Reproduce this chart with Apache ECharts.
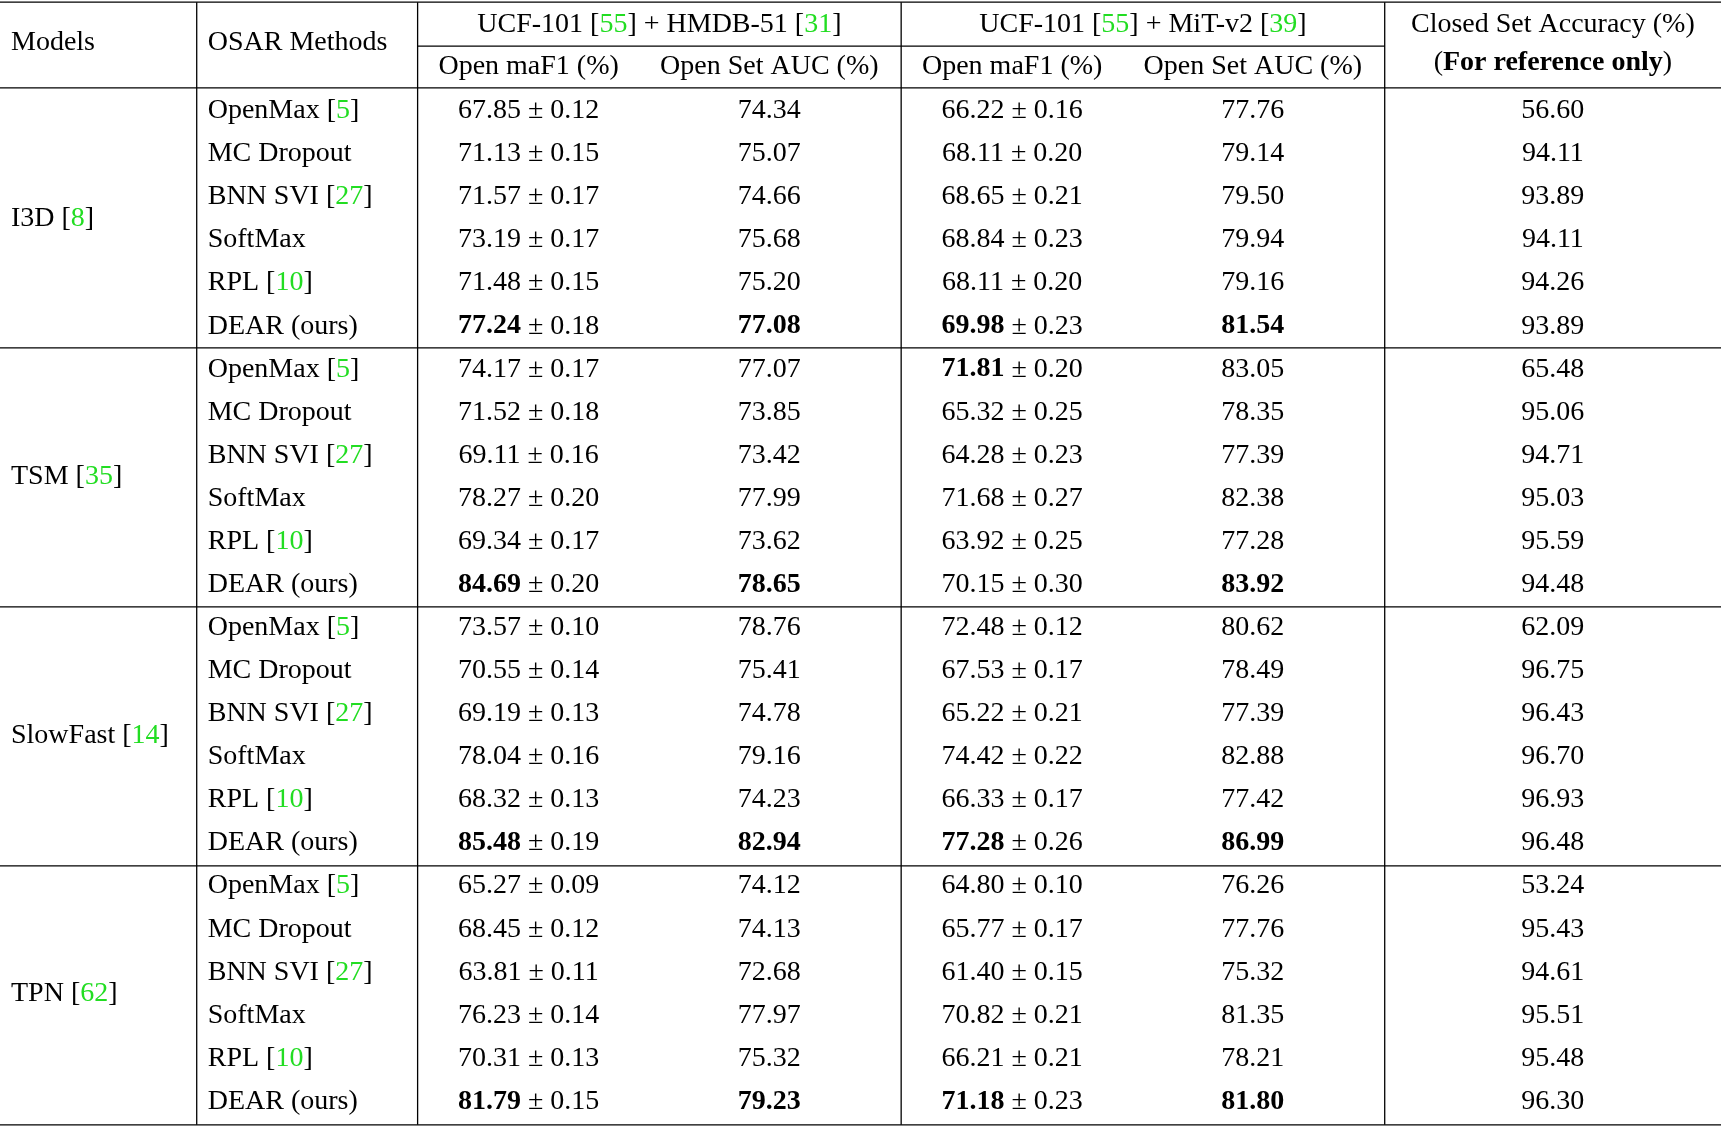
<!DOCTYPE html>
<html>
<head>
<meta charset="utf-8">
<script src="https://cdn.jsdelivr.net/npm/echarts@6/dist/echarts.min.js"></script>
<style>html,body{margin:0;padding:0;background:#fff}#main{width:1721px;height:1127px}</style>
</head>
<body>
<div id="main"></div>
<script>
// table values
var models = ["I3D", "TSM", "SlowFast", "TPN"];
var modelRefs = ["8", "35", "14", "62"];
var methods = ["OpenMax", "MC Dropout", "BNN SVI", "SoftMax", "RPL", "DEAR (ours)"];
var methodRefs = ["5", "", "27", "", "10", ""];
var hmdbF1 = ["67.85","71.13","71.57","73.19","71.48","77.24", "74.17","71.52","69.11","78.27","69.34","84.69",
              "73.57","70.55","69.19","78.04","68.32","85.48", "65.27","68.45","63.81","76.23","70.31","81.79"];
var hmdbErr = ["0.12","0.15","0.17","0.17","0.15","0.18", "0.17","0.18","0.16","0.20","0.17","0.20",
               "0.10","0.14","0.13","0.16","0.13","0.19", "0.09","0.12","0.11","0.14","0.13","0.15"];
var hmdbAuc = ["74.34","75.07","74.66","75.68","75.20","77.08", "77.07","73.85","73.42","77.99","73.62","78.65",
               "78.76","75.41","74.78","79.16","74.23","82.94", "74.12","74.13","72.68","77.97","75.32","79.23"];
var mitF1 = ["66.22","68.11","68.65","68.84","68.11","69.98", "71.81","65.32","64.28","71.68","63.92","70.15",
             "72.48","67.53","65.22","74.42","66.33","77.28", "64.80","65.77","61.40","70.82","66.21","71.18"];
var mitErr = ["0.16","0.20","0.21","0.23","0.20","0.23", "0.20","0.25","0.23","0.27","0.25","0.30",
              "0.12","0.17","0.21","0.22","0.17","0.26", "0.10","0.17","0.15","0.21","0.21","0.23"];
var mitAuc = ["77.76","79.14","79.50","79.94","79.16","81.54", "83.05","78.35","77.39","82.38","77.28","83.92",
              "80.62","78.49","77.39","82.88","77.42","86.99", "76.26","77.76","75.32","81.35","78.21","81.80"];
var closedAcc = ["56.60","94.11","93.89","94.11","94.26","93.89", "65.48","95.06","94.71","95.03","95.59","94.48",
                 "62.09","96.75","96.43","96.70","96.93","96.48", "53.24","95.43","94.61","95.51","95.48","96.30"];
var boldHmdbF1 = [5, 11, 17, 23];
var boldHmdbAuc = [5, 11, 17, 23];
var boldMitF1 = [5, 6, 17, 23];
var boldMitAuc = [5, 11, 17, 23];

// layout (reference units)
var W = 1566, H = 1027;
var colX = [10, 189, 481, 700, 921, 1140, 1413];
var rowY0 = 101, rowH = 39.25;
var font = "Liberation Serif";

var rich = {
  b: {fontWeight: "bold", fontFamily: font, fontSize: 28, fill: "#000"},
  g: {fontFamily: font, fontSize: 28, fill: "#22dd22"}
};
function ref(r) { return r ? " [{g|" + r + "}]" : ""; }
function val(v, bold) { return bold ? "{b|" + v + "}" : v; }

var cells = [];
function cell(x, y, text, align) { cells.push([x, y, text, align || "center"]); }

// header
cell(10, 39, "Models", "left");
cell(189, 39, "OSAR Methods", "left");
cell(600, 22, "UCF-101 [{g|55}] + HMDB-51 [{g|31}]");
cell(1040, 22, "UCF-101 [{g|55}] + MiT-v2 [{g|39}]");
cell(colX[2], 61, "Open maF1 (%)");
cell(colX[3], 61, "Open Set AUC (%)");
cell(colX[4], 61, "Open maF1 (%)");
cell(colX[5], 61, "Open Set AUC (%)");
cell(colX[6], 22, "Closed Set Accuracy (%)");
cell(colX[6], 57, "({b|For reference only})");

for (var m = 0; m < models.length; m++) {
  cell(colX[0], rowY0 + (m * 6 + 2.5) * rowH, models[m] + ref(modelRefs[m]), "left");
}
for (var i = 0; i < hmdbF1.length; i++) {
  var y = rowY0 + i * rowH;
  var k = i % 6;
  cell(colX[1], y, methods[k] + ref(methodRefs[k]), "left");
  cell(colX[2], y, val(hmdbF1[i], boldHmdbF1.indexOf(i) >= 0) + " \u00b1 " + hmdbErr[i]);
  cell(colX[3], y, val(hmdbAuc[i], boldHmdbAuc.indexOf(i) >= 0));
  cell(colX[4], y, val(mitF1[i], boldMitF1.indexOf(i) >= 0) + " \u00b1 " + mitErr[i]);
  cell(colX[5], y, val(mitAuc[i], boldMitAuc.indexOf(i) >= 0));
  cell(colX[6], y, closedAcc[i]);
}

// rules: [x1, y1, x2, y2]
var rules = [
  [0, 2, W, 2], [380, 42, 1260, 42], [0, 80, W, 80],
  [0, 317, W, 317], [0, 553, W, 553], [0, 789, W, 789], [0, 1025, W, 1025],
  [179, 2, 179, 1025], [380, 2, 380, 1025], [820, 2, 820, 1025], [1260, 2, 1260, 1025]
];

var chart = echarts.init(document.getElementById("main"));
chart.setOption({
  animation: false,
  grid: {left: 0, right: 0, top: 0, bottom: 0},
  xAxis: {type: "value", min: 0, max: W, show: false},
  yAxis: {type: "value", min: 0, max: H, inverse: true, show: false},
  series: [{
    type: "custom",
    data: rules,
    renderItem: function (params, api) {
      var a = api.coord([api.value(0), api.value(1)]);
      var b = api.coord([api.value(2), api.value(3)]);
      return {type: "line", shape: {x1: a[0], y1: a[1], x2: b[0], y2: b[1]},
              style: {stroke: "#000", lineWidth: 1.3}};
    }
  }, {
    type: "custom",
    data: cells,
    renderItem: function (params, api) {
      var d = cells[params.dataIndex];
      var p = api.coord([d[0], d[1]]);
      return {type: "text", x: p[0], y: p[1],
              style: {text: d[2], rich: rich, fontFamily: font, fontSize: 28, fill: "#000",
                      align: d[3], verticalAlign: "middle"}};
    }
  }]
});
</script>
</body>
</html>
